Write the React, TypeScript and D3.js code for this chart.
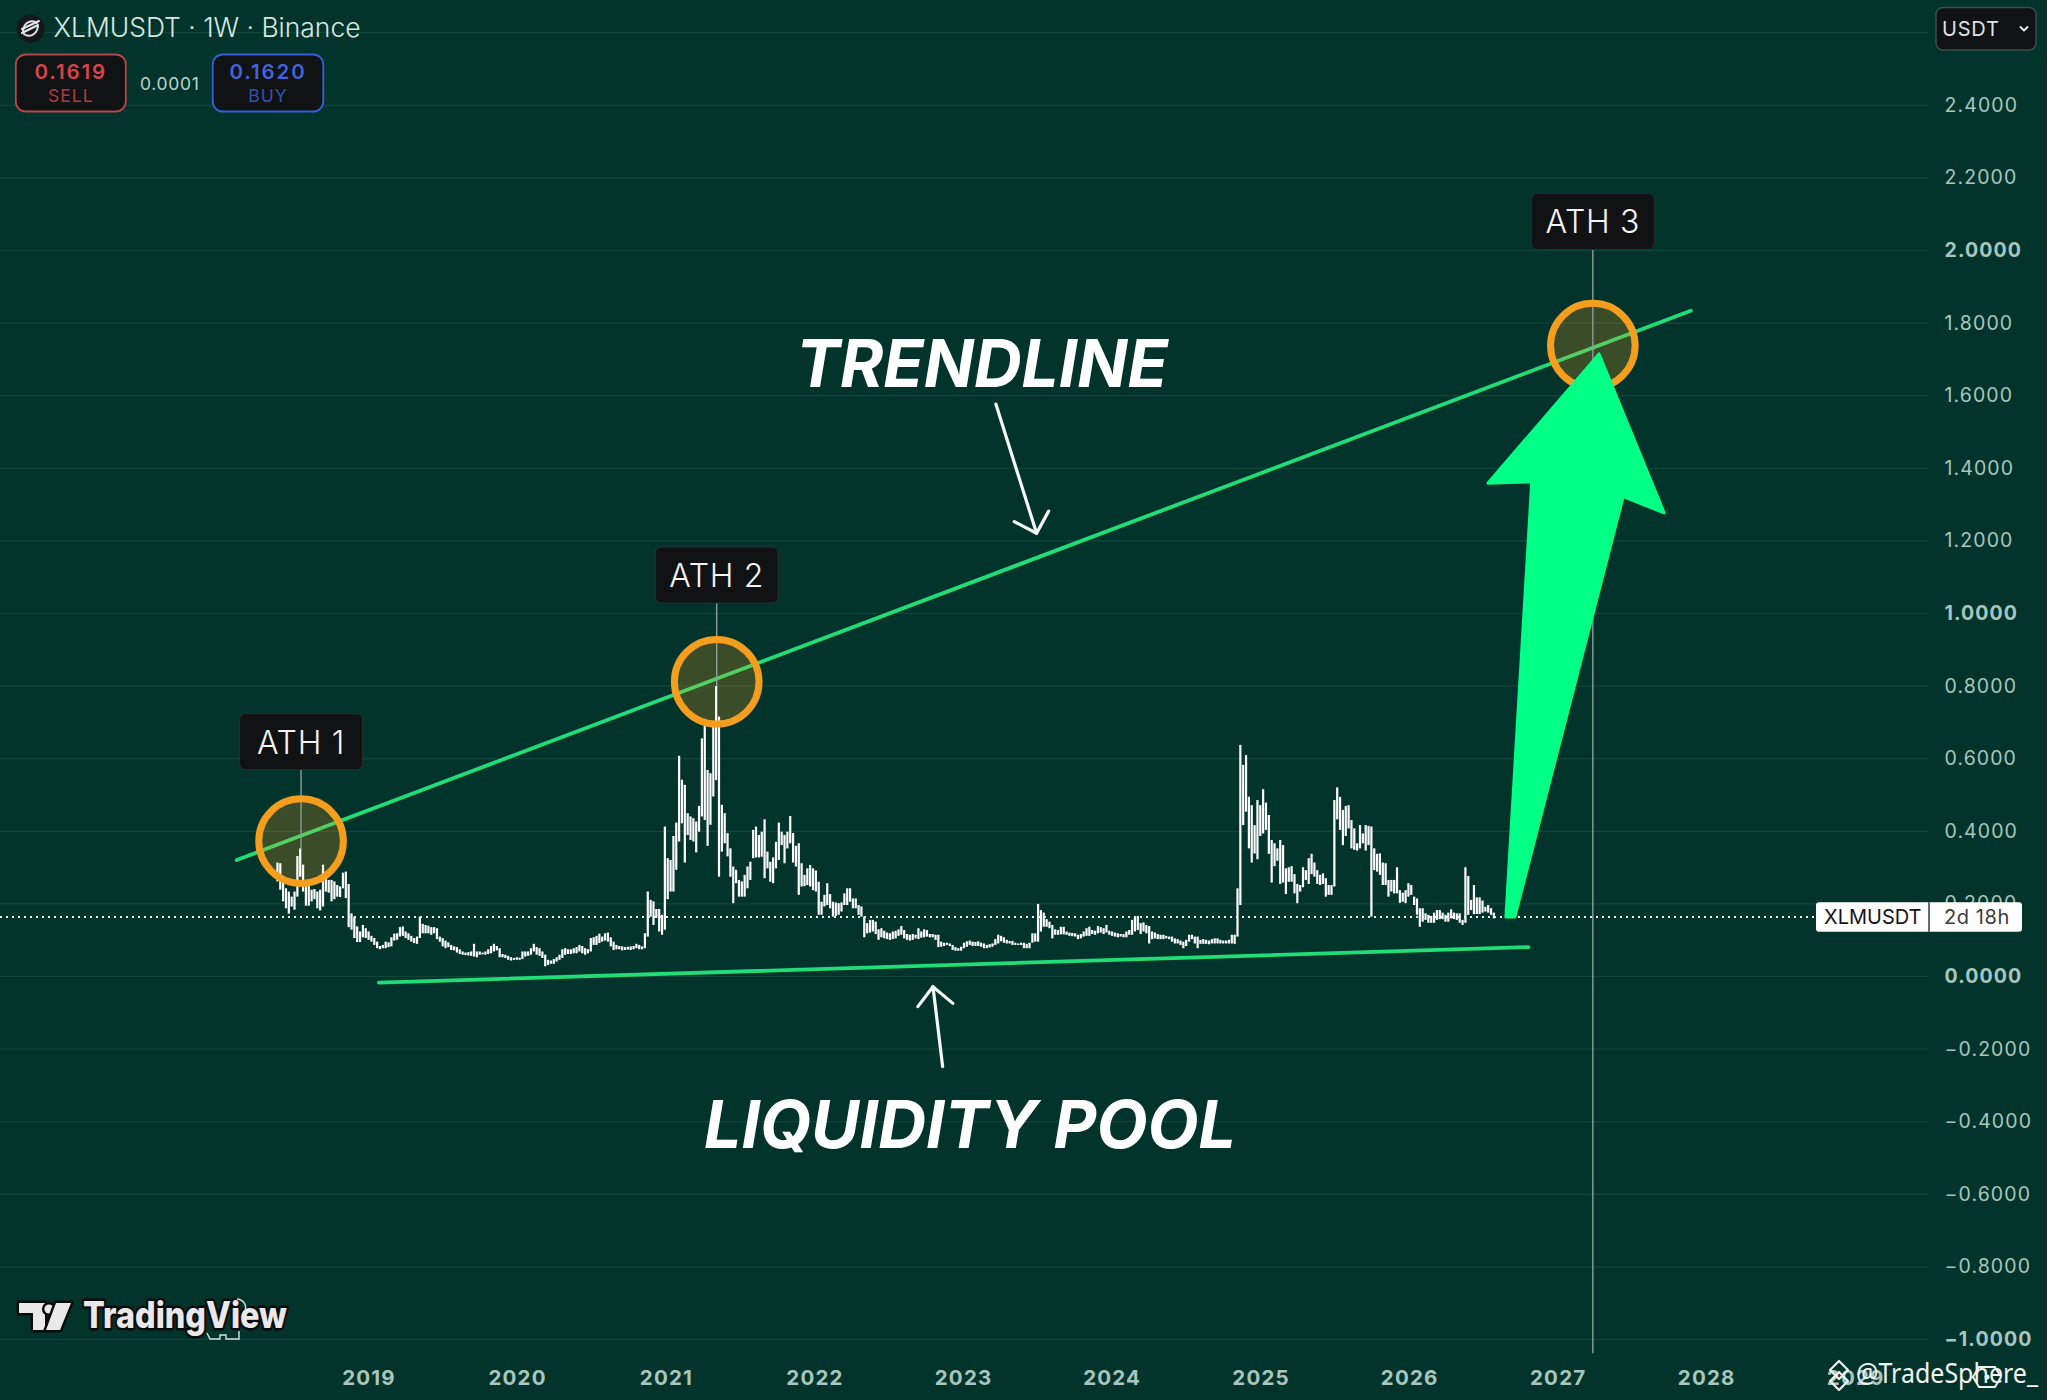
// App.tsx - XLMUSDT weekly chart with hand drawn annotations
import React from "react";
import { scaleUtc, scaleLinear, line, range, format, utcWeek } from "d3";

const WIDTH = 2047;
const HEIGHT = 1400;
const FONT = "Inter, 'Noto Sans', sans-serif";

const BG = "#03342c";
const GRID = "#104539";
const AXIS_TEXT = "#a8c6bd";
const GREEN = "#22dd77";
const ORANGE = "#f59e1e";
const GUIDE = "#8d9f9a";

// weekly candles, first one in late May 2018
const firstWeek = new Date(Date.UTC(2018, 4, 21));

const candleHighs = [
  .314,.312,.262,.243,.234,.220,.234,.332,.353,.308,
  .252,.250,.239,.241,.234,.239,.308,.285,.266,.266,
  .262,.252,.248,.286,.289,.255,.174,.165,.138,.124,
  .142,.133,.124,.112,.106,.096,.084,.087,.096,.094,
  .108,.118,.119,.136,.138,.124,.119,.112,.106,.110,
  .165,.145,.142,.140,.136,.136,.133,.110,.106,.099,
  .094,.087,.083,.081,.075,.069,.066,.067,.069,.090,
  .069,.069,.066,.069,.075,.084,.090,.084,.078,.062,
  .060,.057,.053,.051,.053,.052,.069,.069,.069,.078,
  .090,.081,.078,.069,.060,.046,.044,.048,.053,.060,
  .075,.078,.075,.075,.078,.081,.087,.084,.078,.075,
  .106,.108,.112,.118,.110,.119,.121,.108,.096,.087,
  .084,.083,.081,.082,.083,.084,.090,.087,.083,.119,
  .234,.211,.207,.186,.186,.170,.413,.326,.321,.387,
  .424,.608,.542,.528,.450,.441,.436,.427,.470,.656,
  .690,.569,.560,.688,.800,.716,.473,.450,.395,.353,
  .303,.294,.266,.262,.280,.303,
  .316,.404,.413,.390,.399,.433,.344,.316,.328,.371,
  .424,.399,.390,.399,.442,.395,.360,.367,.312,.280,
  .298,.307,.298,.292,.261,.206,.225,.257,.227,.206,
  .204,.202,.204,.229,.243,.243,.215,.215,.197,.193,
  .165,.147,.156,.156,.151,.130,.133,.126,.121,.119,
  .124,.126,.130,.139,.128,.117,.115,.117,.115,.133,
  .124,.130,.128,.117,.117,.115,.115,.096,.093,.093,
  .091,.087,.081,.078,.082,.093,.097,.099,.096,.095,
  .097,.093,.091,.087,.089,.091,.103,.115,.112,.108,
  .101,.098,.098,.093,.091,.093,.093,.090,.093,.119,
  .119,.200,.183,.176,.158,.151,.142,.130,.128,.137,
  .137,.124,.121,.120,.119,.115,.117,.124,.133,.137,
  .128,.126,.139,.136,.133,.142,.126,.124,.121,.119,
  .117,.117,.124,.128,.156,.163,.167,.147,.149,.142,
  .139,.124,.121,.117,.115,.115,.112,.110,.110,.105,
  .103,.099,.096,.101,.115,.115,.110,.110,.101,.103,
  .101,.099,.103,.105,.105,.101,.099,.099,.101,.115,
  .115,.243,
  .638,.583,.610,.495,.472,.417,.486,.472,.516,.479,
  .445,.376,.367,.353,.376,.362,.298,.301,.304,.282,
  .255,.252,.301,.293,.326,.338,.314,.293,.280,.284,
  .271,.252,.252,.486,.521,.495,.459,.470,.472,.431,
  .408,.367,.417,.394,.417,.415,.413,.353,.338,.339,
  .314,.312,.266,.266,.266,.301,.238,.231,.238,.257,
  .252,.220,.215,.188,.188,.174,.170,.167,.176,.183,
  .183,.176,.170,.176,.185,.176,.174,.174,.156,.301,
  .277,.211,.252,.218,.218,.209,.192,.197,.188,.176,
];

const candleLows = [
  .262,.239,.207,.188,.173,.193,.184,.220,.275,.234,
  .195,.195,.207,.213,.188,.182,.193,.234,.231,.207,
  .213,.220,.219,.243,.216,.136,.129,.106,.095,.095,
  .108,.106,.101,.096,.087,.078,.075,.078,.078,.081,
  .083,.099,.101,.110,.112,.106,.101,.096,.092,.090,
  .106,.119,.119,.119,.115,.119,.103,.096,.083,.078,
  .081,.073,.072,.066,.062,.060,.059,.058,.057,.055,
  .053,.060,.061,.060,.062,.064,.069,.072,.053,.053,
  .051,.046,.044,.046,.046,.046,.048,.055,.057,.060,
  .069,.060,.057,.051,.028,.032,.035,.035,.041,.046,
  .051,.060,.062,.062,.064,.064,.069,.064,.060,.064,
  .069,.087,.087,.092,.096,.099,.096,.083,.073,.075,
  .075,.072,.073,.074,.073,.075,.078,.075,.075,.078,
  .110,.165,.142,.161,.124,.115,.129,.213,.234,.234,
  .294,.372,.422,.314,.390,.376,.372,.342,.399,.441,
  .431,.360,.418,.496,.541,.275,.344,.367,.331,.275,
  .202,.257,.220,.220,.220,.243,
  .266,.326,.328,.328,.330,.271,.298,.261,.257,.298,
  .321,.362,.312,.353,.367,.314,.303,.225,.248,.249,
  .252,.248,.238,.234,.170,.170,.193,.197,.188,.165,
  .167,.170,.179,.197,.197,.206,.188,.188,.170,.165,
  .108,.119,.121,.124,.117,.101,.108,.105,.103,.101,
  .103,.105,.112,.115,.105,.101,.099,.101,.105,.103,
  .107,.108,.110,.108,.108,.101,.081,.082,.084,.087,
  .084,.073,.071,.071,.071,.078,.082,.087,.084,.084,
  .084,.082,.078,.078,.080,.082,.087,.091,.097,.093,
  .091,.091,.087,.087,.087,.087,.078,.078,.078,.093,
  .096,.096,.124,.137,.137,.133,.105,.115,.115,.116,
  .116,.115,.112,.111,.110,.103,.105,.110,.112,.112,
  .117,.115,.119,.121,.117,.121,.115,.112,.110,.108,
  .110,.108,.108,.115,.115,.124,.128,.117,.124,.119,
  .091,.103,.105,.103,.103,.103,.105,.103,.096,.091,
  .091,.087,.078,.084,.096,.103,.091,.078,.090,.090,
  .090,.089,.091,.091,.091,.091,.091,.091,.091,.091,
  .090,.110,
  .197,.417,.454,.353,.314,.339,.323,.387,.394,.404,
  .338,.259,.304,.319,.255,.259,.227,.261,.261,.229,
  .202,.234,.246,.266,.255,.282,.275,.255,.252,.255,
  .220,.225,.225,.248,.433,.404,.362,.387,.408,.353,
  .349,.347,.353,.367,.347,.362,.165,.293,.289,.280,
  .252,.252,.220,.234,.229,.229,.203,.206,.202,.220,
  .225,.197,.170,.137,.151,.156,.148,.148,.148,.156,
  .158,.158,.151,.151,.160,.158,.156,.148,.142,.148,
  .170,.183,.172,.172,.172,.176,.179,.176,.170,.160,
];

const priceTicks = range(-10, 14).map((d) => d / 5);
const labelledTicks = range(-10, 13).map((d) => d / 5);
const yearTicks = range(2019, 2030);
const lastPrice = 0.164;

// drawings on the chart, as [decimal year, price]
const topTrend: [number, number][] = [[2018.11, 0.321], [2027.892, 1.834]];
const bottomTrend: [number, number][] = [[2019.067, -0.017], [2026.8, 0.081]];
const bigArrow: [number, number][] = [
  [2027.275, 1.715], [2027.713, 1.277], [2027.437, 1.322], [2026.708, 0.164],
  [2026.648, 0.164], [2026.822, 1.363], [2026.527, 1.359],
];
const trendArrowShaft: [number, number][] = [[2023.217, 1.577], [2023.491, 1.221]];
const trendArrowHead: [number, number][] = [[2023.341, 1.253], [2023.491, 1.221], [2023.572, 1.282]];
const poolArrowShaft: [number, number][] = [[2022.859, -0.248], [2022.794, -0.028]];
const poolArrowHead: [number, number][] = [[2022.692, -0.083], [2022.794, -0.028], [2022.928, -0.074]];
const athNames = ["ATH 1", "ATH 2", "ATH 3"];
const athYears = [2018.543, 2021.339, 2027.233];
const athPrices = [0.373, 0.812, 1.738];
const athLabelPrices = [0.647, 1.106, 2.08];
const athGuideEnds = [0.35, 0.8, -1.038];

const YEAR_MS = 365.25 * 864e5;
const yearDate = (y: number) => new Date(Date.UTC(2019, 0, 1) + (y - 2019) * YEAR_MS);

const x = scaleUtc()
  .domain([new Date(Date.UTC(2019, 0, 1)), new Date(Date.UTC(2029, 0, 1))])
  .range([369, 1855.7]);
const y = scaleLinear().domain([0, 2]).range([976.5, 250.5]);

const toPath = line<[number, number]>()
  .x((d) => x(yearDate(d[0])))
  .y((d) => y(d[1]));

const candleTimes = candleHighs.map((_, i) => utcWeek.offset(firstWeek, i));
const fmtPrice = format(".4f");

const Chip = ({ cx, cy, w, h, stroke, price, name, priceColor, nameColor }: any) => (
  <g>
    <rect x={cx - w / 2} y={cy - h / 2} width={w} height={h} rx={10} fill="#111214" stroke={stroke} strokeWidth={1.8} />
    <text x={cx} y={cy - 4} textAnchor="middle" fontSize={20.5} fontWeight={600} letterSpacing={1.9} fill={priceColor}>{price}</text>
    <text x={cx} y={cy + 18.5} textAnchor="middle" fontSize={17.5} letterSpacing={1} fill={nameColor}>{name}</text>
  </g>
);

export default function App() {
  return (
    <svg
      width={WIDTH}
      height={HEIGHT}
      viewBox={`0 0 ${WIDTH} ${HEIGHT}`}
      style={{ position: "fixed", left: 0, top: 0, display: "block" }}
      fontFamily={FONT}
    >
      <rect width={WIDTH} height={HEIGHT} fill={BG} />
      <rect x={2043} width={4} height={HEIGHT} fill="#0a2f29" />

      {/* grid */}
      {priceTicks.map((t) => (
        <line key={t} x1={0} x2={1928} y1={y(t)} y2={y(t)} stroke={GRID} strokeWidth={1.2} />
      ))}

      {/* price axis */}
      {labelledTicks.map((t) => {
        const whole = Number.isInteger(t);
        return (
          <text
            key={t}
            x={1944.5}
            y={y(t) + 6.5}
            fontSize={19.5}
            letterSpacing={1.1}
            fontWeight={whole ? 700 : 400}
            fill={AXIS_TEXT}
          >
            {fmtPrice(t)}
          </text>
        );
      })}

      {/* time axis */}
      {yearTicks.map((yr) => (
        <text
          key={yr}
          x={x(new Date(Date.UTC(yr, 0, 1)))}
          y={1384.5}
          textAnchor="middle"
          fontSize={20.5}
          fontWeight={700}
          letterSpacing={1.2}
          fill={AXIS_TEXT}
        >
          {yr}
        </text>
      ))}

      {/* last price line */}
      <line x1={0} x2={1816} y1={y(lastPrice)} y2={y(lastPrice)} stroke="#e8efec" strokeWidth={2} strokeDasharray="2 4" />

      {/* trendlines */}
      <path d={toPath(topTrend) ?? ""} stroke={GREEN} strokeWidth={3.8} fill="none" strokeLinecap="round" />
      <path d={toPath(bottomTrend) ?? ""} stroke={GREEN} strokeWidth={3.8} fill="none" strokeLinecap="round" />

      {/* ATH circle fills go under the candles, rings over them */}
      {athYears.map((yr, i) => (
        <circle key={yr} cx={x(yearDate(yr))} cy={y(athPrices[i])} r={42.5} fill={ORANGE} fillOpacity={0.23} />
      ))}

      {/* candles */}
      {candleTimes.map((t, i) => (
        <rect
          key={i}
          x={x(t) - 1.1}
          y={y(candleHighs[i])}
          width={2.2}
          height={y(candleLows[i]) - y(candleHighs[i])}
          fill="#ffffff"
        />
      ))}

      {/* guides */}
      {athYears.map((yr, i) => (
        <line
          key={yr}
          x1={x(yearDate(yr))}
          x2={x(yearDate(yr))}
          y1={y(athLabelPrices[i])}
          y2={y(athGuideEnds[i])}
          stroke={GUIDE}
          strokeWidth={1.4}
        />
      ))}

      {athYears.map((yr, i) => (
        <circle key={yr} cx={x(yearDate(yr))} cy={y(athPrices[i])} r={42.3} fill="none" stroke={ORANGE} strokeWidth={7} />
      ))}

      {/* ATH labels */}
      {athNames.map((name, i) => {
        const cx = x(yearDate(athYears[i]));
        const cy = y(athLabelPrices[i]);
        return (
          <g key={name}>
            <rect x={cx - 61.5} y={cy - 28} width={123} height={56} rx={6} fill="#111214" stroke="#27302e" strokeWidth={1} />
            <text x={cx} y={cy + 12} textAnchor="middle" fontSize={32} fontWeight={300} letterSpacing={0.7} fill="#f4f4f4">{name}</text>
          </g>
        );
      })}

      {/* big arrow */}
      <path
        d={(toPath(bigArrow) ?? "") + "Z"}
        fill="#00ff85"
        stroke="#00ff85"
        strokeWidth={3}
        strokeLinejoin="round"
      />

      {/* thin arrows */}
      {[trendArrowShaft, trendArrowHead, poolArrowShaft, poolArrowHead].map((pts, i) => (
        <path key={i} d={toPath(pts) ?? ""} fill="none" stroke="#f6f8f7" strokeWidth={3.2} strokeLinecap="round" strokeLinejoin="round" />
      ))}

      {/* big words */}
      <text x={796} y={387.3} fontSize={66} fontWeight={700} fontStyle="italic" fill="#ffffff" textLength={372} lengthAdjust="spacingAndGlyphs">TRENDLINE</text>
      <text x={704} y={1147.5} fontSize={66} fontWeight={700} fontStyle="italic" fill="#ffffff" textLength={532} lengthAdjust="spacingAndGlyphs">LIQUIDITY POOL</text>

      {/* header */}
      <circle cx={30.7} cy={28.7} r={14} fill="#15171a" />
      <g stroke="#e6e6e6" strokeWidth={2} fill="none" strokeLinecap="round">
        <path d="M22,33 L38,25" />
        <path d="M23,31 C24,22 32,19 37,23" />
        <path d="M38,26 C37,35 29,38 24,34" />
        <path d="M22,29 L39,21" />
      </g>
      <text x={53.5} y={37} fontSize={26.5} fontWeight={300} fill="#d6e9e2" textLength={307} lengthAdjust="spacingAndGlyphs">XLMUSDT · 1W · Binance</text>
      <Chip cx={70.8} cy={83} w={110} h={57} stroke="#b5474a" price="0.1619" name="SELL" priceColor="#d8434b" nameColor="#ad3d43" />
      <text x={140} y={89.5} fontSize={17.5} letterSpacing={0.7} fill="#bcd4cc">0.0001</text>
      <Chip cx={268} cy={83} w={110.5} h={57} stroke="#3360d8" price="0.1620" name="BUY" priceColor="#4164dc" nameColor="#3252b0" />

      {/* currency dropdown */}
      <rect x={1936} y={7.5} width={100} height={42.5} rx={7} fill="#111214" stroke="#3d4d49" strokeWidth={1.5} />
      <text x={1942} y={36} fontSize={20} letterSpacing={0.8} fill="#dfe3e2">USDT</text>
      <path d="M2020.5,27 L2024,30.5 L2027.5,27" fill="none" stroke="#e5e5e5" strokeWidth={2} strokeLinecap="round" strokeLinejoin="round" />

      {/* last price tag */}
      <rect x={1816} y={902.3} width={206} height={29.5} rx={3} fill="#ffffff" />
      <line x1={1929} x2={1929} y1={902.3} y2={931.8} stroke="#12332c" strokeWidth={1.4} />
      <text x={1824} y={924.3} fontSize={20} fill="#141414">XLMUSDT</text>
      <text x={1944} y={924.3} fontSize={20} letterSpacing={0.6} fill="#3b3b3b">2d 18h</text>

      {/* TradingView mark */}
      <g stroke="#0c0c0c" strokeWidth={5} paintOrder="stroke" fill="#e9e9e9" strokeLinejoin="round">
        <path d="M19,1303 H45 V1330 H33 V1313 H19 Z" />
        <circle cx={49} cy={1309} r={4.6} />
        <path d="M56,1303 H71 L60,1330 H46 Z" />
        <text x={83} y={1328} fontFamily="Inter, sans-serif" fontSize={37} fontWeight={800} textLength={204} lengthAdjust="spacingAndGlyphs">TradingView</text>
      </g>
      <path d="M207,1333 L210,1339 H220 V1335 H226 V1339 H239 V1331 M237,1299 C244,1300 247,1305 245,1311" fill="none" stroke="#cfe8df" strokeWidth={1.4} />

      {/* watermark */}
      <g fill="none" stroke="#f0f0f0" strokeWidth={2.2} strokeLinejoin="round">
        <path d="M1839,1361 L1848,1370 L1839,1379 L1830,1370 Z" />
        <path d="M1839,1372 L1848,1381 L1839,1390 L1830,1381 Z" />
      </g>
      <text x={1856} y={1383} fontFamily="'Noto Sans', sans-serif" fontSize={27} fill="#f2f2f2" textLength={182} lengthAdjust="spacingAndGlyphs">@TradeSphere_</text>
      <path d="M1979,1367 H1995 L2001,1377 L1995,1387 H1979 L1973,1377 Z" fill="none" stroke="#f0f0f0" strokeWidth={2} />
      <circle cx={1987} cy={1377} r={2.5} fill="#f0f0f0" />
    </svg>
  );
}
